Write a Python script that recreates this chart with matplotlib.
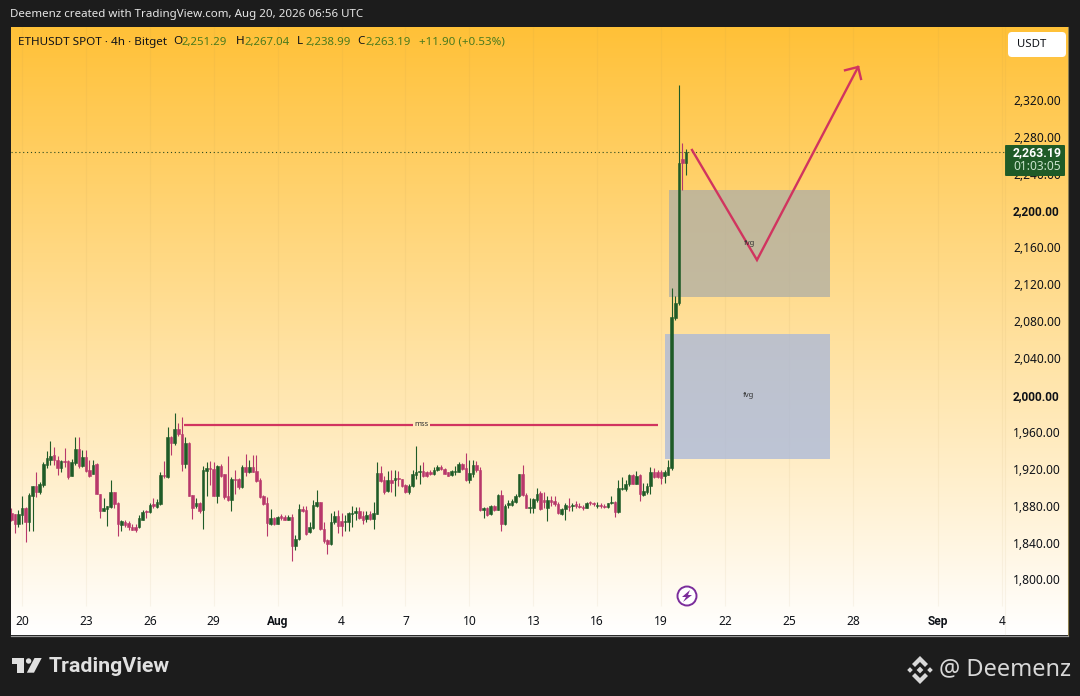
import matplotlib
matplotlib.use("Agg")
import matplotlib.pyplot as plt
from matplotlib.patches import Circle, FancyBboxPatch, Polygon, Rectangle
import numpy as np

plt.rcParams["font.family"] = ["Noto Sans", "DejaVu Sans"]

# 4h candles, 20 Jul is bar 0
opens = [1872,1871,1860,1870,1878,1862,1891,1901,1895,1902,
         1924,1930,1935,1930,1921,1928,1928,1912,1926,1941,
         1923,1933,1919,1914,1925,1893,1874,1876,1879,1895,
         1883,1859,1862,1861,1857,1857,1857,1865,1874,1873,
         1882,1879,1882,1913,1911,1954,1948,1963,1958,1925,
         1948,1892,1880,1883,1875,1918,1921,1920,1891,1923,
         1914,1890,1886,1909,1909,1900,1922,1916,1922,1918,
         1908,1890,1883,1860,1867,1860,1869,1868,1865,1868,
         1836,1844,1876,1875,1851,1856,1880,1884,1855,1843,
         1838,1862,1869,1863,1862,1862,1871,1872,1874,1869,
         1866,1871,1866,1871,1915,1908,1896,1908,1908,1910,
         1909,1902,1895,1901,1913,1917,1918,1917,1917,1914,
         1919,1922,1920,1916,1913,1917,1917,1925,1921,1908,
         1914,1924,1919,1875,1878,1871,1880,1875,1892,1860,
         1881,1881,1884,1890,1914,1892,1878,1878,1886,1894,
         1886,1878,1886,1885,1882,1871,1876,1880,1880,1882,
         1880,1879,1878,1884,1883,1880,1881,1880,1879,1883,
         1884,1873,1898,1898,1903,1913,1904,1913,1892,1895,
         1901,1917,1916,1916,1912,1913,1921,2083,2100,2256,2251.29]
highs = [1878,1871,1875,1890,1879,1894,1901,1916,1906,1927,
         1939,1950,1944,1934,1930,1942,1930,1931,1954,1954,
         1940,1940,1929,1930,1926,1893,1888,1880,1908,1895,
         1884,1865,1864,1863,1860,1860,1870,1875,1875,1883,
         1888,1887,1917,1928,1965,1955,1980,1970,1976,1954,
         1949,1892,1888,1884,1923,1927,1928,1927,1924,1925,
         1914,1934,1911,1919,1910,1924,1936,1929,1935,1935,
         1910,1892,1889,1876,1868,1869,1871,1870,1870,1871,
         1848,1882,1880,1880,1862,1886,1897,1884,1862,1844,
         1872,1874,1875,1872,1870,1873,1880,1879,1879,1874,
         1874,1874,1884,1927,1923,1912,1918,1919,1919,1918,
         1909,1903,1904,1919,1945,1924,1927,1918,1919,1922,
         1924,1924,1921,1917,1919,1923,1927,1926,1937,1930,
         1929,1928,1922,1879,1879,1881,1881,1893,1897,1882,
         1886,1887,1893,1914,1924,1894,1888,1888,1899,1896,
         1895,1891,1890,1890,1884,1877,1883,1888,1883,1885,
         1883,1881,1884,1885,1884,1884,1883,1882,1883,1891,
         1885,1908,1911,1908,1914,1914,1918,1914,1905,1905,
         1922,1921,1919,1919,1919,1929,2116,2107,2336,2273,2267.04]
lows = [1863,1850,1857,1860,1841,1853,1853,1889,1893,1900,
        1921,1924,1924,1913,1916,1922,1909,1912,1924,1921,
        1922,1917,1911,1914,1893,1867,1874,1858,1878,1877,
        1847,1853,1857,1854,1854,1851,1856,1864,1867,1872,
        1878,1878,1881,1910,1910,1935,1946,1956,1918,1921,
        1890,1866,1877,1872,1855,1891,1902,1890,1883,1911,
        1887,1885,1874,1893,1898,1899,1912,1915,1916,1906,
        1888,1881,1847,1859,1859,1860,1865,1864,1864,1820,
        1832,1843,1873,1848,1850,1855,1879,1854,1839,1828,
        1837,1860,1850,1847,1853,1853,1857,1865,1866,1860,
        1862,1865,1855,1871,1906,1893,1895,1895,1891,1901,
        1900,1894,1893,1900,1909,1904,1911,1911,1913,1913,
        1918,1919,1914,1912,1912,1913,1916,1919,1907,1905,
        1911,1917,1874,1867,1869,1870,1874,1875,1853,1859,
        1878,1880,1883,1889,1891,1877,1872,1872,1884,1875,
        1877,1863,1880,1880,1871,1870,1864,1874,1874,1878,
        1877,1875,1877,1881,1880,1877,1878,1878,1878,1882,
        1868,1872,1897,1896,1901,1903,1903,1885,1890,1893,
        1893,1910,1910,1904,1905,1913,1919,2081,2098,2222,2238.99]
closes = [1865,1860,1871,1878,1862,1892,1901,1895,1904,1925,
          1932,1934,1930,1921,1928,1927,1911,1927,1941,1923,
          1933,1918,1912,1924,1893,1874,1877,1880,1895,1882,
          1860,1863,1859,1857,1854,1854,1867,1873,1873,1881,
          1880,1884,1913,1912,1954,1948,1963,1958,1925,1948,
          1891,1878,1883,1874,1919,1921,1920,1891,1923,1912,
          1889,1886,1909,1908,1900,1922,1917,1922,1917,1907,
          1889,1882,1861,1867,1860,1868,1867,1865,1868,1836,
          1844,1876,1874,1849,1857,1881,1884,1855,1842,1838,
          1862,1869,1858,1858,1863,1872,1872,1874,1867,1865,
          1870,1866,1872,1915,1907,1895,1908,1905,1910,1909,
          1901,1895,1901,1914,1917,1918,1912,1912,1914,1919,
          1922,1920,1914,1912,1918,1918,1925,1920,1908,1915,
          1924,1919,1875,1878,1870,1880,1875,1892,1860,1880,
          1883,1885,1891,1914,1892,1877,1879,1887,1893,1876,
          1884,1886,1884,1882,1872,1876,1881,1879,1881,1880,
          1879,1878,1883,1883,1882,1881,1880,1879,1883,1884,
          1873,1899,1899,1903,1913,1904,1912,1893,1896,1901,
          1917,1911,1911,1910,1916,1922,2085,2100,2251,2251.3,2263.19]
bars = np.arange(-3, 188)

x_ticks = [0, 18, 36, 54, 72, 90, 108, 126, 144, 162, 180, 198, 216, 234, 258, 276]
x_labels = ["20", "23", "26", "29", "Aug", "4", "7", "10", "13", "16", "19", "22", "25", "28", "Sep", "4"]
y_ticks = [1800, 1840, 1880, 1920, 1960, 2000, 2040, 2080, 2120, 2160, 2200, 2240, 2280, 2320]
last_price = 2263.19

# drawings on the chart, in bars and price
fvg_up = [182.3, 227.6, 2106, 2222]
fvg_low = [181.1, 227.6, 1931, 2066]
mss_price = 1967.5
mss_segments = [[45.6, 110], [115, 179.2]]
path_x = [188.7, 207, 235.5]
path_y = [2265.6, 2146.3, 2355.6]
head_x = [231.8, 235.5, 236.3]
head_y = [2352, 2355.6, 2342.6]

GREEN = "#1f5b27"
RED = "#b8386b"
LINE = "#d1345f"
DARK = "#1c1c1c"
TEXT = "#0f1218"
VAL = "#4a7a1e"

fig = plt.figure(figsize=(10.8, 6.96), dpi=100, facecolor=DARK)
ax = fig.add_axes([11 / 1080, 1 - 635 / 696, (1068 - 11) / 1080, (635 - 27) / 696])

# yellow to white background
top = np.array([255, 193, 56]) / 255
grad = np.linspace(0, 1, 256)[:, None, None] * (1 - top) + top
ax.imshow(grad, extent=[0, 1, 0, 1], transform=ax.transAxes, aspect="auto", zorder=0, origin="upper")
ax.set_xlim(-3.1, 294.6)
ax.set_ylim(1739.8, 2398.9)

ax.vlines(x_ticks, 1771, 2398.9, color="#b09050", alpha=0.08, lw=0.8, zorder=0.5)

for box, col in [(fvg_up, "#aeaea6"), (fvg_low, "#a7b7db")]:
    ax.add_patch(Rectangle((box[0], box[2]), box[1] - box[0], box[3] - box[2],
                           facecolor=col, alpha=0.75, edgecolor="none", zorder=1))
ax.text(205, 2164, "fvg", fontsize=5.5, color="#333333", ha="center", va="center", zorder=5)
ax.text(204.5, 1999, "fvg", fontsize=5.5, color="#333333", ha="center", va="center", zorder=5)

colors = [GREEN if c >= o else RED for o, c in zip(opens, closes)]
ax.vlines(bars, lows, highs, color=colors, lw=0.8, zorder=2)
bottoms = [min(o, c) for o, c in zip(opens, closes)]
heights = [abs(o - c) for o, c in zip(opens, closes)]
ax.bar(bars, heights, bottom=bottoms, width=0.72, color=colors, edgecolor=colors, lw=0.4, zorder=3)

ax.hlines(last_price, -3.1, 276.9, color="#2a4a20", lw=0.8, linestyles=(0, (1, 2.5)), zorder=4)

for seg in mss_segments:
    ax.hlines(mss_price, seg[0], seg[1], color=LINE, lw=1.6, zorder=4)
ax.text(112.5, mss_price, "mss", fontsize=5.5, color="#333333", ha="center", va="center", zorder=5)

ax.plot(path_x, path_y, color=LINE, lw=1.7, solid_joinstyle="miter", zorder=4)
ax.plot(head_x, head_y, color=LINE, lw=1.7, zorder=4)

ax.set_xticks(x_ticks)
ax.set_xticklabels(x_labels)
ax.yaxis.tick_right()
ax.set_yticks(y_ticks)
ax.set_yticklabels([f"{v:,.2f}" for v in y_ticks])
ax.tick_params(axis="x", length=0, pad=-14.4, labelsize=8.6, labelcolor=TEXT)
ax.tick_params(axis="y", length=0, pad=-39.6, labelsize=8.6, labelcolor=TEXT)
for lab in ax.get_xticklabels():
    if lab.get_text() in ("Aug", "Sep"):
        lab.set_fontfamily("Roboto")
        lab.set_fontweight("bold")
for lab in ax.get_yticklabels():
    if lab.get_text() in ("2,000.00", "2,200.00"):
        lab.set_fontfamily("Roboto")
        lab.set_fontweight("bold")
for side in ax.spines.values():
    side.set_visible(False)

# overlay in image pixels for the tradingview chrome
ov = fig.add_axes([0, 0, 1, 1], zorder=5)
ov.set_xlim(0, 1080)
ov.set_ylim(696, 0)
ov.axis("off")
ov.patch.set_alpha(0)

ov.plot([1005, 1005], [27, 635], color="#b09050", alpha=0.08, lw=0.8)
ov.plot([1068, 1068], [27, 635], color="#d9c070", alpha=0.6, lw=0.8)
ov.plot([11, 1068], [635.5, 635.5], color="#9a9a9a", lw=0.9)
ov.text(10, 14.5, "Deemenz created with TradingView.com, Aug 20, 2026 06:56 UTC",
        fontsize=8.3, color="#e6e6e6", va="center")

ov.text(18, 42, "ETHUSDT SPOT · 4h · Bitget", fontsize=8.4, color=TEXT, va="center")
for x, letter, value in [(173.5, "O", "2,251.29"), (236, "H", "2,267.04"), (297, "L", "2,238.99"), (357, "C", "2,263.19")]:
    ov.text(x, 42, letter, fontsize=8.4, color=TEXT, va="center")
    ov.text(x + 8.5, 42, value, fontsize=8.2, color=VAL, va="center")
ov.text(419, 42, "+11.90 (+0.53%)", fontsize=8.3, color=VAL, va="center")

ov.add_patch(FancyBboxPatch((1010, 34), 54, 21, boxstyle="round,pad=2,rounding_size=4",
                            facecolor="white", edgecolor="none"))
ov.text(1017, 44.5, "USDT", fontsize=8.2, color=TEXT, va="center")

ov.add_patch(FancyBboxPatch((1006, 146), 58, 29, boxstyle="round,pad=1,rounding_size=1",
                            facecolor=GREEN, edgecolor="none"))
ov.text(1013, 152.5, "2,263.19", fontsize=8.8, fontfamily="Roboto", fontweight="bold", color="white", va="center")
ov.text(1013, 166.5, "01:03:05", fontsize=8.6, color="#c9e3cc", va="center")

# lightning mark
ov.add_patch(Circle((687, 596), 9.5, facecolor="white", edgecolor="#7b2d9b", lw=1.4))
ov.add_patch(Polygon([(690, 590), (682, 597), (686, 597), (683, 602), (692, 595), (688, 595)],
                     facecolor="#7b2d9b", edgecolor="none"))

# tradingview logo
ov.add_patch(Polygon([(12, 658), (23.5, 658), (23.5, 672.7), (17, 672.7), (17, 663.5), (12, 663.5)],
                     facecolor="#e0e0e0", edgecolor="none"))
ov.add_patch(Circle((28.6, 661), 2.7, facecolor="#e0e0e0", edgecolor="none"))
ov.add_patch(Polygon([(34.5, 658), (41.7, 658), (34, 672.7), (26.8, 672.7)], facecolor="#e0e0e0", edgecolor="none"))
ov.text(49, 666, "TradingView", fontsize=15.4, fontfamily="Roboto", fontweight="bold", color="#e0e0e0", va="center")

# binance mark
cx, cy = 920, 670
GREY = "#d8d8d8"
for dx, dy, r in [(0, 0, 3.4), (-10, 0, 2.8), (10, 0, 2.8)]:
    ov.add_patch(Polygon([(cx + dx - r, cy + dy), (cx + dx, cy + dy - r), (cx + dx + r, cy + dy), (cx + dx, cy + dy + r)],
                         facecolor=GREY, edgecolor="none"))
ov.add_patch(Polygon([(cx, cy - 14), (cx + 8, cy - 6), (cx + 5, cy - 3), (cx, cy - 8), (cx - 5, cy - 3), (cx - 8, cy - 6)],
                     facecolor=GREY, edgecolor="none"))
ov.add_patch(Polygon([(cx, cy + 14), (cx + 8, cy + 6), (cx + 5, cy + 3), (cx, cy + 8), (cx - 5, cy + 3), (cx - 8, cy + 6)],
                     facecolor=GREY, edgecolor="none"))
ov.text(939, 669, "@ Deemenz", fontsize=17, color=GREY, va="center")

plt.savefig("out.png", dpi=100, facecolor=DARK)
